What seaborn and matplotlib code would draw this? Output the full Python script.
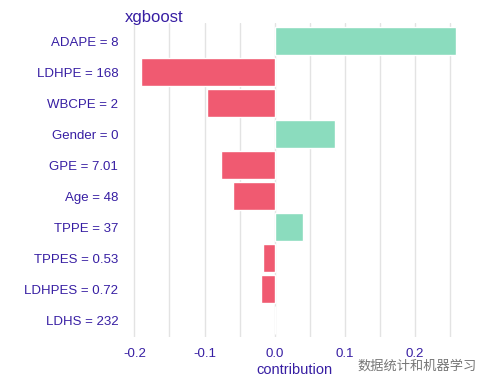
import matplotlib
matplotlib.use("Agg")
import matplotlib.pyplot as plt
import seaborn as sns
import pandas as pd
from matplotlib.ticker import MultipleLocator

# break-down contributions (xgboost)
labels = ["ADAPE = 8", "LDHPE = 168", "WBCPE = 2", "Gender = 0", "GPE = 7.01",
          "Age = 48", "TPPE = 37", "TPPES = 0.53", "LDHPES = 0.72", "LDHS = 232"]
contribution = [0.259, -0.191, -0.097, 0.086, -0.076, -0.060, 0.041, -0.016, -0.019, 0.0]
sign = ["pos" if v >= 0 else "neg" for v in contribution]

df = pd.DataFrame({"variable": labels, "contribution": contribution, "sign": sign})

sns.set_style("white")
plt.rcParams["font.family"] = ["Liberation Sans", "Noto Sans CJK SC", "DejaVu Sans"]
txt = "#371ea3"

fig = plt.figure(figsize=(4.8, 3.84), dpi=100)
ax = fig.add_axes([0.258, 0.122, 0.709, 0.818])

sns.barplot(data=df, x="contribution", y="variable", hue="sign", order=labels,
            palette={"pos": "#8bdcbe", "neg": "#f05a71"}, dodge=False,
            width=0.9, saturation=1, legend=False, ax=ax, zorder=2)

ax.set_xlim(-0.215, 0.27)
ax.set_ylim(9.55, -0.58)
ax.xaxis.set_minor_locator(MultipleLocator(0.05))
ax.set_xticks([-0.2, -0.1, 0.0, 0.1, 0.2])
ax.set_xticklabels(["-0.2", "-0.1", "0.0", "0.1", "0.2"])
ax.grid(axis="x", which="both", color="#e3e3e3", linewidth=1, zorder=0)
ax.grid(axis="y", visible=False)
for s in ax.spines.values():
    s.set_visible(False)
ax.tick_params(axis="both", which="both", length=0, labelsize=9.5, colors=txt)
ax.tick_params(axis="y", pad=4)
ax.tick_params(axis="x", pad=8)
ax.set_ylabel("")
ax.set_xlabel("contribution", color=txt, fontsize=10.5, labelpad=2)

fig.text(0.26, 0.955, "xgboost", color=txt, fontsize=12, ha="left", va="center")
fig.text(0.745, 0.045, "数据统计和机器学习", color="#555555", fontsize=9.5,
         ha="left", va="center", alpha=0.8)

fig.savefig("out.png", dpi=100)
